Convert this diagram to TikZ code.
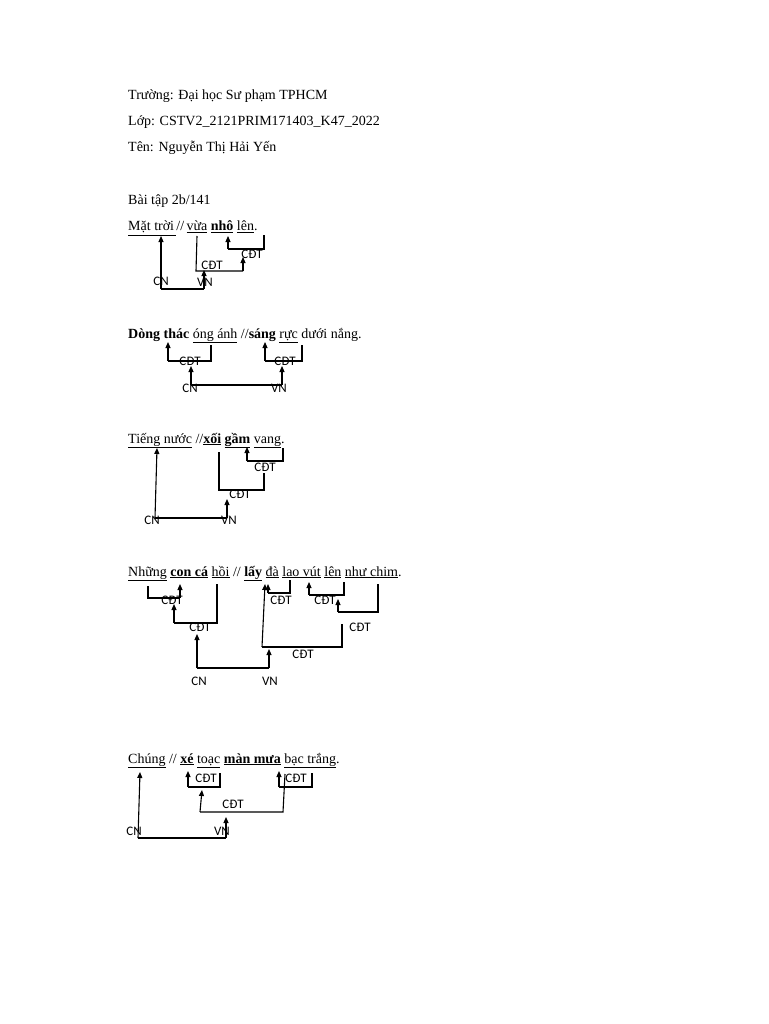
\documentclass[tikz,border=0pt]{standalone}
\usepackage{fontspec}
\setmainfont{Liberation Serif}
\newfontfamily\lblfont{Carlito}
\usetikzlibrary{arrows.meta}
\begin{document}
\begin{tikzpicture}[x=1pt,y=-1pt,
  txt/.style={inner sep=0,anchor=base west,font=\fontsize{14}{17}\selectfont},
  lbl/.style={inner sep=0,font=\lblfont\fontsize{13}{15}\selectfont},
  ln/.style={line width=1.1pt},
  ar/.style={line width=1.1pt,-{Triangle[length=6pt,width=5pt]}}]
\useasboundingbox (0,0) rectangle (768,1024);
\node[txt] (h1) at (128,100) {Trường: Đại học Sư phạm TPHCM};
\node[txt] (h2) at (128,126) {Lớp: CSTV2\_2121PRIM171403\_K47\_2022};
\node[txt] (h3) at (128,152) {Tên: Nguyễn Thị Hải Yến};
\node[txt] (h4) at (128,205) {Bài tập 2b/141};
% Sentence 1
\node[txt] (s1) at (128,231) {\underline{Mặt trời\,}//\,\underline{vừa} \underline{\textbf{nhô}} \underline{lên}.};
\node[lbl] (cn1) at (161,281) {CN};
\node[lbl] (vn1) at (205,282) {VN};
\node[lbl] (c1a) at (212,265) {CĐT};
\node[lbl] (c1b) at (252,254) {CĐT};
\draw[ar] (161,289) -- (161,236);
\draw[ln] (161,289) -- (204,289);
\draw[ar] (204,289) -- (204,270);
\draw[ln] (197,236) -- (196,271) -- (243,271);
\draw[ar] (243,271) -- (243,257);
\draw[ar] (228,249) -- (228,236);
\draw[ln] (228,249) -- (264,249) -- (264,235);
% Sentence 2
\node[txt] (s2) at (128,338) {\textbf{Dòng thác} \underline{óng ánh} //\textbf{sáng} \underline{rực} dưới nắng.};
\node[lbl] (c2a) at (190,361) {CĐT};
\node[lbl] (c2b) at (285,361) {CĐT};
\node[lbl] (cn2) at (190,388) {CN};
\node[lbl] (vn2) at (279,388) {VN};
\draw[ar] (168,361) -- (168,342);
\draw[ln] (168,361) -- (211,361) -- (211,345);
\draw[ar] (265,361) -- (265,342);
\draw[ln] (265,361) -- (302,361) -- (302,345);
\draw[ar] (191,385) -- (191,366);
\draw[ln] (191,385) -- (282,385);
\draw[ar] (282,385) -- (282,366);
% Sentence 3
\node[txt] (s3) at (128,443) {\underline{Tiếng nước} //\underline{\textbf{xối}} \underline{\textbf{gầm}} \underline{vang}.};
\node[lbl] (c3a) at (265,467) {CĐT};
\node[lbl] (c3b) at (240,494) {CĐT};
\node[lbl] (cn3) at (152,520) {CN};
\node[lbl] (vn3) at (229,520) {VN};
\draw[ar] (155,518) -- (157,448);
\draw[ln] (155,518) -- (227,518);
\draw[ar] (227,518) -- (227,499);
\draw[ln] (219,452) -- (219,490) -- (264,490) -- (264,473);
\draw[ar] (247,461) -- (247,447);
\draw[ln] (247,461) -- (283,461) -- (283,448);
% Sentence 4
\node[txt] (s4) at (128,576) {\underline{Những} \underline{\textbf{con cá}} \underline{hồi} // \underline{\textbf{lấy}} \underline{đà} \underline{lao vút} \underline{lên} \underline{như chim}.};
\node[lbl] (c4a) at (172,600) {CĐT};
\node[lbl] (c4b) at (200,627) {CĐT};
\node[lbl] (c4c) at (281,600) {CĐT};
\node[lbl] (c4d) at (325,600) {CĐT};
\node[lbl] (c4e) at (360,627) {CĐT};
\node[lbl] (c4f) at (303,654) {CĐT};
\node[lbl] (cn4) at (199,681) {CN};
\node[lbl] (vn4) at (270,681) {VN};
\draw[ln] (148,586) -- (148,598) -- (180,598);
\draw[ar] (180,598) -- (180,584);
\draw[ar] (174,623) -- (174,604);
\draw[ln] (174,623) -- (217,623) -- (217,584);
\draw[ar] (197,668) -- (197,634);
\draw[ln] (197,668) -- (269,668);
\draw[ar] (269,668) -- (269,649);
\draw[ar] (262,647) -- (265,584);
\draw[ln] (262,647) -- (342,647) -- (342,624);
\draw[ar] (268,593) -- (268,584);
\draw[ln] (268,593) -- (290,593) -- (290,580);
\draw[ar] (309,595) -- (309,582);
\draw[ln] (309,595) -- (344,595) -- (344,582);
\draw[ar] (338,612) -- (338,599);
\draw[ln] (338,612) -- (378,612) -- (378,584);
% Sentence 5
\node[txt] (s5) at (128,763) {\underline{Chúng} // \underline{\textbf{xé}} \underline{toạc} \underline{\textbf{màn mưa}} \underline{bạc trắng}.};
\node[lbl] (c5a) at (206,778) {CĐT};
\node[lbl] (c5b) at (296,778) {CĐT};
\node[lbl] (c5c) at (233,804) {CĐT};
\node[lbl] (cn5) at (134,831) {CN};
\node[lbl] (vn5) at (222,831) {VN};
\draw[ar] (138,838) -- (140,772);
\draw[ln] (138,838) -- (226,838);
\draw[ar] (226,838) -- (226,817);
\draw[ar] (200,812) -- (202,790);
\draw[ln] (200,812) -- (283,812) -- (285,774);
\draw[ar] (188,787) -- (188,771);
\draw[ln] (188,787) -- (220,787) -- (220,773);
\draw[ar] (279,787) -- (279,771);
\draw[ln] (279,787) -- (312,787) -- (312,773);
\end{tikzpicture}
\end{document}
